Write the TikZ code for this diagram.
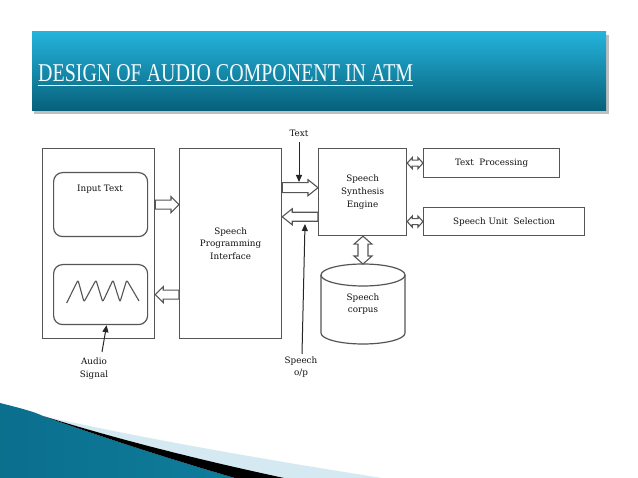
\documentclass[tikz,border=0pt]{standalone}
\usepackage{fontspec}
\setmainfont{Liberation Serif}
\newfontfamily\lblfont{DejaVu Serif}
\usetikzlibrary{calc,arrows.meta}
\definecolor{lc}{HTML}{555555}
\definecolor{tc}{HTML}{111111}
\definecolor{bantop}{HTML}{24B3DB}
\definecolor{banbot}{HTML}{07607A}
\definecolor{tealA}{HTML}{0B6F8E}
\definecolor{tealB}{HTML}{55B4D4}
\definecolor{tealC}{HTML}{0F7C9B}
\definecolor{lblue}{HTML}{D4E9F1}
\tikzset{
  lbl/.style={font=\lblfont\fontsize{8.8}{12.8}\selectfont, text=tc, align=center, inner sep=0pt},
  box/.style={draw=lc, line width=1.2pt, inner sep=0pt, anchor=north west, lbl},
  rbox/.style={box, rounded corners=9pt},
  barrow/.style={draw=lc, line width=1.1pt, fill=white, line join=miter},
  thin/.style={draw=black!85, line width=1pt, -{Triangle[length=7pt,width=6pt]}},
}
\newcommand\blockarrow[5]{% from, to, shaft half width, head half width, head length
  \coordinate (bah) at ($(#2)!#5!(#1)$);
  \draw[barrow] ($(#1)!#3!90:(#2)$) -- ($(bah)!#3!90:(#2)$) -- ($(bah)!#4!90:(#2)$) -- (#2)
     -- ($(bah)!#4!-90:(#2)$) -- ($(bah)!#3!-90:(#2)$) -- ($(#1)!#3!-90:(#2)$) -- cycle;
}
\newcommand\dblarrow[5]{%
  \coordinate (dah) at ($(#1)!#5!(#2)$);
  \coordinate (dbh) at ($(#2)!#5!(#1)$);
  \draw[barrow] (#1) -- ($(dah)!#4!90:(#2)$) -- ($(dah)!#3!90:(#2)$) -- ($(dbh)!#3!90:(#2)$)
     -- ($(dbh)!#4!90:(#2)$) -- (#2) -- ($(dbh)!#4!-90:(#2)$) -- ($(dbh)!#3!-90:(#2)$)
     -- ($(dah)!#3!-90:(#2)$) -- ($(dah)!#4!-90:(#2)$) -- cycle;
}
\begin{document}
\begin{tikzpicture}[x=1pt,y=-1pt]
\useasboundingbox[fill=white] (0,0) rectangle (638,478);

% banner
\fill[black!25] (34,35) rectangle (609,114);
\shade[top color=bantop, bottom color=banbot] (32,32) rectangle (606,111);
\node[anchor=base west, inner sep=0pt, text=white!95!cyan] (title) at (38,82)
  {\resizebox{375pt}{17pt}{\fontsize{24}{24}\selectfont DESIGN OF AUDIO COMPONENT IN ATM}};
\draw[white!95!cyan, line width=0.8pt] ($(title.base west)+(0,3)$) -- ($(title.base east)+(0,3)$);

% bottom swoosh
\shade[left color=tealA, middle color=tealB, right color=tealC]
  (0,403) .. controls (20,408) and (35,412) .. (43,416) .. controls (110,440) and (180,462) .. (235,478) -- (0,478) -- cycle;
\fill[lblue] (43,416) .. controls (150,440) and (280,462) .. (382,478) -- (280,478) .. controls (200,460) and (120,440) .. (43,416) -- cycle;
\fill[black] (43,416) .. controls (120,440) and (200,460) .. (284,478) -- (235,478) .. controls (180,462) and (110,440) .. (43,416) -- cycle;

% boxes
\node[box, minimum width=112pt, minimum height=190pt] (outer) at (42,148) {};
\node[rbox, minimum width=94pt, minimum height=64pt] (itb) at (53,172) {};
\node[lbl] (itl) at (100,189) {Input Text};
\node[rbox, minimum width=94pt, minimum height=60pt] (wave) at (53,264) {};
\draw[lc, line width=1.1pt, line join=round, rounded corners=2pt]
  (66.7,303) -- (78,280) -- (84,302) -- (96,280) -- (102.7,302) -- (113,280) -- (120,302) -- (126.7,280) -- (139,301);
\node[box, minimum width=102pt, minimum height=190pt] (spi) at (179,148) {Speech\\Programming\\Interface};
\node[box, minimum width=88pt, minimum height=87pt] (sse) at (318,148) {Speech\\Synthesis\\Engine};
\node[box, minimum width=136pt, minimum height=29pt] (tp) at (423,148) {Text\ \ Processing};
\node[box, minimum width=161pt, minimum height=28pt] (sus) at (423,207) {Speech Unit\ \ Selection};

% cylinder
\coordinate (cyltop) at (363,264);
\draw[lc, line width=1.2pt, fill=white] (321,275) -- (321,333) arc[start angle=180, end angle=360, x radius=42pt, y radius=11pt] -- (405,275);
\draw[lc, line width=1.2pt] (363,275) ellipse[x radius=42pt, y radius=11pt];
\node[lbl] (corpus) at (363,304) {Speech\\corpus};

% block arrows
\coordinate (a1s) at (outer.east |- itb.center);
\coordinate (a1e) at (spi.west |- itb.center);
\blockarrow{a1s}{a1e}{4.5pt}{8pt}{8pt}
\coordinate (a2s) at (spi.west |- wave.center);
\coordinate (a2e) at (outer.east |- wave.center);
\blockarrow{a2s}{a2e}{4.5pt}{8pt}{8pt}
\coordinate (ya) at ($(sse.north)!0.45!(sse.south)$);
\coordinate (yb) at ($(sse.north)!0.78!(sse.south)$);
\coordinate (a3s) at (spi.east |- ya);
\coordinate (a3e) at (sse.west |- ya);
\blockarrow{a3s}{a3e}{5pt}{8pt}{10pt}
\coordinate (a4s) at (sse.west |- yb);
\coordinate (a4e) at (spi.east |- yb);
\blockarrow{a4s}{a4e}{4.5pt}{8pt}{10pt}
\coordinate (d1s) at (sse.east |- tp.west);
\dblarrow{d1s}{tp.west}{3pt}{5.5pt}{5pt}
\coordinate (d2s) at (sse.east |- sus.west);
\dblarrow{d2s}{sus.west}{3pt}{5.5pt}{5pt}
\coordinate (d3s) at (sse.south -| cyltop);
\dblarrow{d3s}{cyltop}{5pt}{9pt}{8pt}

% labels and thin arrows
\node[lbl] (txt) at (299,133) {Text};
\coordinate (txttip) at (299,182);
\draw[thin] (txt.south) ++(0,6) -- (txttip);
\node[lbl] (aud) at (94,369) {Audio\\Signal};
\coordinate (audbase) at (102,352);
\coordinate (audtip) at ($(wave.south)+(6,0)$);
\draw[thin] (audbase) -- (audtip);
\node[lbl] (op) at (301,367) {Speech\\o/p};
\coordinate (opbase) at (302,354);
\coordinate (optip) at (305,224);
\draw[thin] (opbase) -- (optip);
\end{tikzpicture}
\end{document}
